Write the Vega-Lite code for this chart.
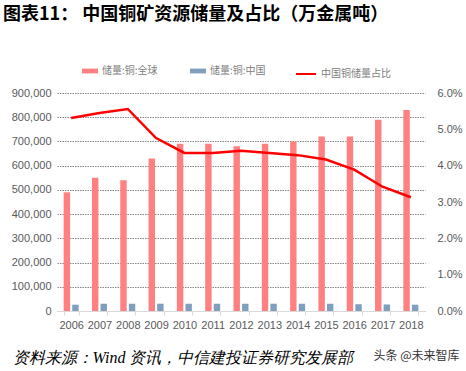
{
  "$schema": "https://vega.github.io/schema/vega-lite/v6.json",
  "width": 368,
  "height": 218,
  "autosize": {"type": "none"},
  "padding": {"left": 57, "top": 93, "right": 41, "bottom": 60},
  "background": "white",
  "title": {
    "text": "图表11：   中国铜矿资源储量及占比（万金属吨）",
    "anchor": "start",
    "frame": "group",
    "dx": -54,
    "font": "Noto Sans CJK SC",
    "fontSize": 18,
    "fontWeight": "bold",
    "color": "#000000",
    "offset": 39
  },
  "datasets": {
    "bars": [
      {"year": "2006", "series": "储量:铜:全球", "value": 490000},
      {"year": "2006", "series": "储量:铜:中国", "value": 26000},
      {"year": "2007", "series": "储量:铜:全球", "value": 550000},
      {"year": "2007", "series": "储量:铜:中国", "value": 30000},
      {"year": "2008", "series": "储量:铜:全球", "value": 540000},
      {"year": "2008", "series": "储量:铜:中国", "value": 30000},
      {"year": "2009", "series": "储量:铜:全球", "value": 630000},
      {"year": "2009", "series": "储量:铜:中国", "value": 30000},
      {"year": "2010", "series": "储量:铜:全球", "value": 690000},
      {"year": "2010", "series": "储量:铜:中国", "value": 30000},
      {"year": "2011", "series": "储量:铜:全球", "value": 690000},
      {"year": "2011", "series": "储量:铜:中国", "value": 30000},
      {"year": "2012", "series": "储量:铜:全球", "value": 680000},
      {"year": "2012", "series": "储量:铜:中国", "value": 30000},
      {"year": "2013", "series": "储量:铜:全球", "value": 690000},
      {"year": "2013", "series": "储量:铜:中国", "value": 30000},
      {"year": "2014", "series": "储量:铜:全球", "value": 700000},
      {"year": "2014", "series": "储量:铜:中国", "value": 30000},
      {"year": "2015", "series": "储量:铜:全球", "value": 720000},
      {"year": "2015", "series": "储量:铜:中国", "value": 30000},
      {"year": "2016", "series": "储量:铜:全球", "value": 720000},
      {"year": "2016", "series": "储量:铜:中国", "value": 28000},
      {"year": "2017", "series": "储量:铜:全球", "value": 790000},
      {"year": "2017", "series": "储量:铜:中国", "value": 27000},
      {"year": "2018", "series": "储量:铜:全球", "value": 830000},
      {"year": "2018", "series": "储量:铜:中国", "value": 26000}
    ],
    "line": [
      {"year": "2006", "name": "中国铜储量占比", "ratio": 0.0531},
      {"year": "2007", "name": "中国铜储量占比", "ratio": 0.0545},
      {"year": "2008", "name": "中国铜储量占比", "ratio": 0.0556},
      {"year": "2009", "name": "中国铜储量占比", "ratio": 0.0476},
      {"year": "2010", "name": "中国铜储量占比", "ratio": 0.0435},
      {"year": "2011", "name": "中国铜储量占比", "ratio": 0.0435},
      {"year": "2012", "name": "中国铜储量占比", "ratio": 0.0441},
      {"year": "2013", "name": "中国铜储量占比", "ratio": 0.0435},
      {"year": "2014", "name": "中国铜储量占比", "ratio": 0.0429},
      {"year": "2015", "name": "中国铜储量占比", "ratio": 0.0417},
      {"year": "2016", "name": "中国铜储量占比", "ratio": 0.0389},
      {"year": "2017", "name": "中国铜储量占比", "ratio": 0.0342},
      {"year": "2018", "name": "中国铜储量占比", "ratio": 0.0313}
    ]
  },
  "layer": [
    {
      "data": {"name": "bars"},
      "mark": {"type": "bar"},
      "encoding": {
        "x": {
          "field": "year",
          "type": "nominal",
          "scale": {"paddingInner": 0.47, "paddingOuter": 0.235},
          "axis": {
            "title": "资料来源：Wind 资讯，中信建投证券研究发展部",
            "titleAnchor": "start",
            "titleX": -45,
            "titleY": 51,
            "titleBaseline": "alphabetic",
            "titleFont": "Liberation Serif",
            "titleFontStyle": "italic",
            "titleFontWeight": "normal",
            "titleFontSize": 16,
            "titleColor": "#000000",
            "labelAngle": 0,
            "labelFont": "Liberation Sans",
            "labelFontSize": 11,
            "labelColor": "#595959",
            "labelPadding": 4,
            "domainColor": "#d9d9d9",
            "tickColor": "#d9d9d9",
            "tickBand": "extent",
            "tickSize": 4,
            "grid": false
          }
        },
        "xOffset": {
          "field": "series",
          "type": "nominal",
          "sort": ["储量:铜:全球", "储量:铜:中国"],
          "scale": {"paddingInner": 0.25, "paddingOuter": 0}
        },
        "y": {
          "field": "value",
          "type": "quantitative",
          "scale": {"domain": [0, 900000]},
          "axis": {
            "title": null,
            "values": [0, 100000, 200000, 300000, 400000, 500000, 600000, 700000, 800000, 900000],
            "format": ",d",
            "labelFont": "Liberation Sans",
            "labelFontSize": 11,
            "labelColor": "#595959",
            "labelPadding": 6,
            "domain": false,
            "ticks": false,
            "grid": true,
            "gridColor": "#555555",
            "gridDash": [1.5, 1],
            "gridWidth": 0.7
          }
        },
        "color": {
          "field": "series",
          "type": "nominal",
          "sort": ["储量:铜:全球", "储量:铜:中国"],
          "scale": {"domain": ["储量:铜:全球", "储量:铜:中国"], "range": ["#ff8080", "#7f9fbf"]},
          "legend": {
            "title": null,
            "orient": "none",
            "legendX": 25,
            "legendY": -30,
            "direction": "horizontal",
            "symbolType": "M-1,-0.3H1V0.3H-1Z",
            "symbolSize": 256,
            "symbolStrokeWidth": 0,
            "columnPadding": 32,
            "labelFont": "Noto Sans CJK SC",
            "labelFontSize": 10,
            "labelColor": "#808080"
          }
        }
      }
    },
    {
      "data": {"name": "line"},
      "mark": {"type": "line", "strokeWidth": 2.5},
      "encoding": {
        "x": {"field": "year", "type": "nominal"},
        "y": {
          "field": "ratio",
          "type": "quantitative",
          "scale": {"domain": [0, 0.06]},
          "axis": {
            "title": "头条 @未来智库",
            "titleAngle": 0,
            "titleAlign": "left",
            "titleAnchor": "start",
            "titleBaseline": "alphabetic",
            "titleX": -52,
            "titleY": 266,
            "titleFont": "Noto Sans CJK SC",
            "titleFontSize": 12,
            "titleFontWeight": "normal",
            "titleColor": "#333333",
            "orient": "right",
            "values": [0, 0.01, 0.02, 0.03, 0.04, 0.05, 0.06],
            "format": ".1%",
            "labelFont": "Liberation Sans",
            "labelFontSize": 11,
            "labelColor": "#595959",
            "labelPadding": 12,
            "domain": false,
            "ticks": false,
            "grid": false
          }
        },
        "stroke": {
          "field": "name",
          "type": "nominal",
          "scale": {"range": ["#ff0000"]},
          "legend": {
            "title": null,
            "orient": "none",
            "legendX": 238,
            "legendY": -30,
            "symbolType": "stroke",
            "symbolSize": 400,
            "symbolStrokeWidth": 2,
            "labelFont": "Noto Sans CJK SC",
            "labelFontSize": 10,
            "labelColor": "#808080"
          }
        }
      }
    }
  ],
  "resolve": {"scale": {"y": "independent"}},
  "config": {
    "view": {"stroke": null}
  }
}
